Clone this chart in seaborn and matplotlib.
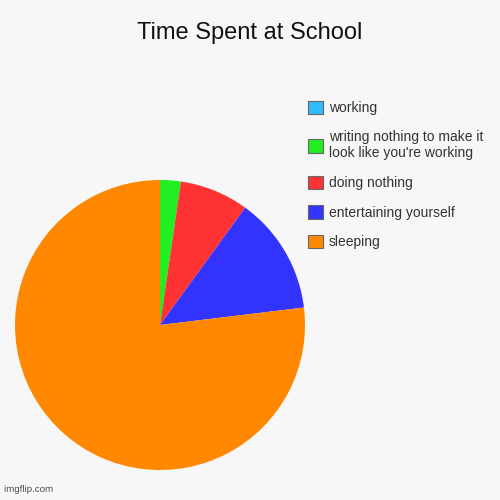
import matplotlib.pyplot as plt
import matplotlib.patheffects as pe
import seaborn as sns

# Data
labels = ["working", "writing nothing to make it\nlook like you're working",
          "doing nothing", "entertaining yourself", "sleeping"]
values = [0, 3, 10, 17, 100]
colors = ["#33bbff", "#22ee22", "#ff3333", "#3333ff", "#ff8800"]

sns.set_style("white")
plt.rcParams['font.family'] = ['Liberation Sans', 'DejaVu Sans']

fig = plt.figure(figsize=(5, 5), dpi=100, facecolor="#f7f7f7")
ax = fig.add_axes([-0.0425, -0.0125, 0.725, 0.725])
ax.set_facecolor("#f7f7f7")

wedges, _ = ax.pie(values, colors=colors, startangle=90, counterclock=False,
                   wedgeprops=dict(linewidth=0))
ax.set_aspect("equal")
ax.axis("off")

fig.text(0.5, 0.935, "Time Spent at School", ha="center", va="center",
         fontsize=17, color="#111111")

leg = fig.legend(wedges, labels, loc="upper left", bbox_to_anchor=(0.604, 0.81),
                 frameon=False, fontsize=10, handlelength=1.1, handleheight=1.1,
                 handletextpad=0.45, labelspacing=1.1, borderaxespad=0)
for h in leg.legend_handles:
    h.set_edgecolor("#666666")
    h.set_linewidth(0.8)
for t in leg.get_texts():
    t.set_color("#333333")
    t.set_linespacing(1.2)

fig.text(0.008, 0.016, "imgflip.com", fontsize=7, color="#444444",
         path_effects=[pe.withStroke(linewidth=2, foreground="white")])

fig.savefig("out.png", dpi=100, facecolor=fig.get_facecolor())
